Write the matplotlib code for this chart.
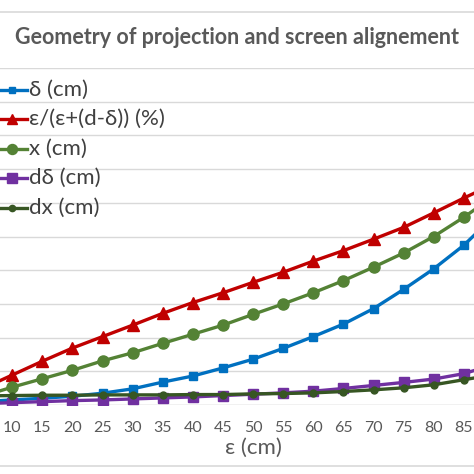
import numpy as np
import matplotlib
matplotlib.use("agg")
import matplotlib.pyplot as plt
from matplotlib.lines import Line2D

# categories (eps in cm) - the picture is cropped, 5 and 90 fall just outside
eps = [5, 10, 15, 20, 25, 30, 35, 40, 45, 50, 55, 60, 65, 70, 75, 80, 85, 90]
tick_eps = [10, 15, 20, 25, 30, 35, 40, 45, 50, 55, 60, 65, 70, 75, 80, 85]

delta = [1.0, 1.5, 2.0, 2.6, 3.5, 4.8, 6.8, 8.6, 11.0, 13.6, 16.8, 20.3, 24.0, 28.6, 34.3, 40.4, 47.4, 56.0]
ratio = [4.8, 8.9, 13.0, 16.9, 20.3, 23.7, 27.2, 30.4, 33.3, 36.4, 39.4, 42.7, 45.8, 49.2, 52.7, 57.0, 61.4, 65.6]
xcm = [2.6, 5.3, 7.8, 10.3, 13.1, 15.5, 18.3, 21.0, 23.7, 26.9, 30.0, 33.3, 36.9, 40.9, 45.1, 50.0, 55.7, 62.0]
ddelta = [0.4, 0.7, 1.0, 1.3, 1.5, 1.8, 2.1, 2.4, 2.8, 3.2, 3.6, 4.1, 4.9, 5.8, 6.7, 7.7, 9.3, 12.0]
dx = [2.7, 2.8, 2.9, 2.9, 3.0, 3.0, 3.0, 3.1, 3.1, 3.3, 3.4, 3.6, 4.0, 4.5, 5.1, 6.0, 7.5, 9.0]

series = [
    ("δ (cm)", delta, "#0070C0", "s", 5.5),
    ("ε/(ε+(d-δ)) (%)", ratio, "#C00000", "^", 8.5),
    ("x (cm)", xcm, "#548235", "o", 8),
    ("dδ (cm)", ddelta, "#7030A0", "s", 7.5),
    ("dx (cm)", dx, "#375623", "o", 5),
]

W = H = 474
fig = plt.figure(figsize=(4.74, 4.74), dpi=100)
plt.rcParams['font.family'] = ['Lato', 'DejaVu Sans']

# axes placed so that the chart looks cropped like the reference
x0, x1 = 2.5, 97.5
px_per5 = 30.1
left_px = 12.3 + (x0 - 10) / 5 * px_per5
right_px = 12.3 + (x1 - 10) / 5 * px_per5
ax = fig.add_axes([left_px / W, (H - 405) / H, (right_px - left_px) / W, (405 - 68) / H])

for name, vals, col, mk, ms in series:
    ax.plot(eps, vals, color=col, lw=2.4, marker=mk, ms=ms, label=name, zorder=3)

ax.set_xlim(x0, x1)
ax.set_ylim(0, 100)
ax.set_xticks(tick_eps)
ax.set_yticks(np.arange(0, 101, 10))
ax.yaxis.grid(True, color="#D9D9D9", lw=1)
ax.set_axisbelow(True)
for s in ax.spines.values():
    s.set_visible(False)
ax.axhline(0, color="#D9D9D9", lw=1)
ax.tick_params(axis="x", length=0, pad=11.5, labelsize=11.5, labelcolor="#595959")
ax.tick_params(axis="y", left=False, labelleft=False)
ax.set_xlabel("ε (cm)", fontsize=16, color="#595959", labelpad=2)

fig.text(237 / W, 1 - 38 / H, "Geometry of projection and screen alignement",
         ha="center", va="center", fontsize=15.5, fontweight="bold", color="#595959")

# chart border lines
fig.add_artist(Line2D([0, 1], [1 - 12 / H, 1 - 12 / H], color="#D9D9D9", lw=1.2))
fig.add_artist(Line2D([0, 1], [1 - 466 / H, 1 - 466 / H], color="#D9D9D9", lw=1.2))

# legend drawn by hand in pixel positions (it is cut at the left edge like the reference)
for i, (name, vals, col, mk, ms) in enumerate(series):
    yc = 1 - (89.5 + 29.6 * i) / H
    fig.add_artist(Line2D([-2 / W, 27 / W], [yc, yc], color=col, lw=2.4))
    fig.add_artist(Line2D([12 / W], [yc], color=col, marker=mk, ms=ms * 0.9, lw=0))
    fig.text(29 / W, yc, name, ha="left", va="center", fontsize=16, color="#404040")

fig.savefig("out.png", dpi=100)
